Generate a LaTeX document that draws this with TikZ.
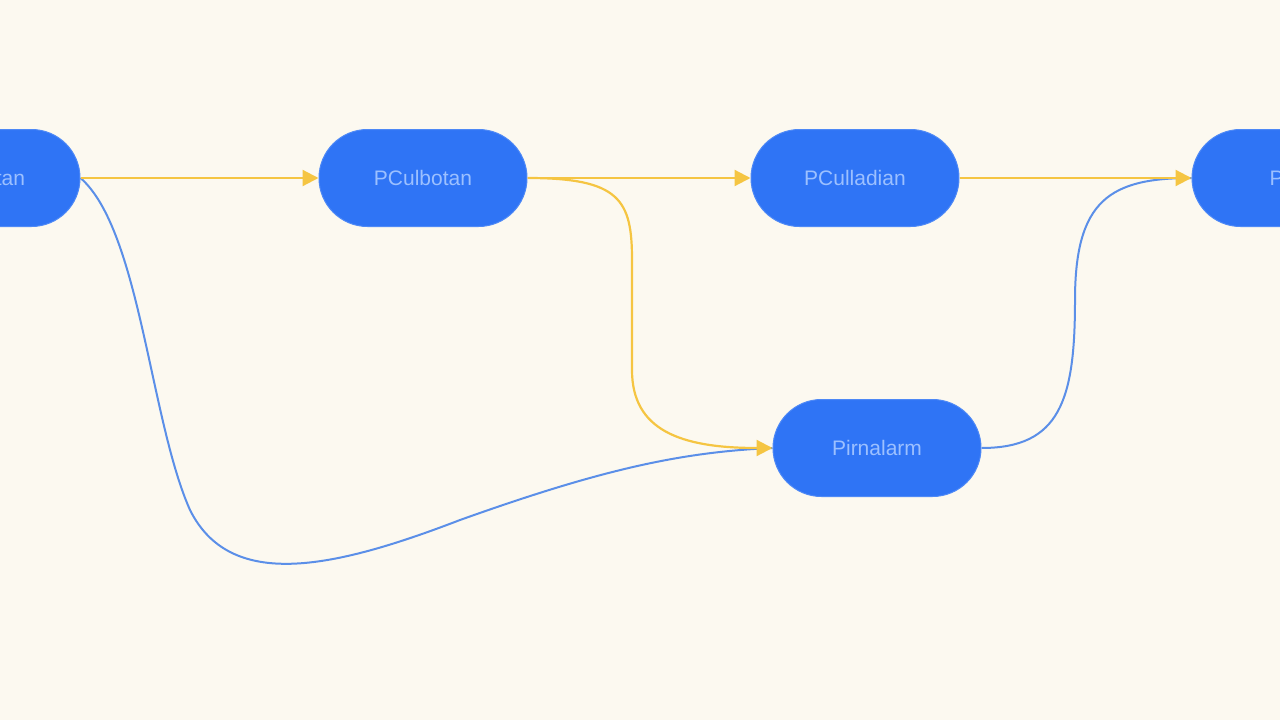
\documentclass[tikz,border=0pt]{standalone}
\usepackage{fontspec}
\setmainfont{Liberation Sans}
\usetikzlibrary{shapes.misc,arrows.meta}
\definecolor{bg}{HTML}{FCF9F0}
\definecolor{nodefill}{HTML}{2F74F5}
\definecolor{txt}{HTML}{9CC0FF}
\definecolor{yel}{HTML}{F5C542}
\definecolor{bl}{HTML}{5B8FE8}
\tikzset{
  pill/.style={rounded rectangle, fill=nodefill, draw=nodefill!85!white, line width=1pt, minimum width=208pt, minimum height=97pt, text=txt, font=\fontsize{21}{24}\selectfont, inner sep=0pt},
  yarrow/.style={draw=yel, line width=2.2pt, -{Triangle[length=16pt,width=16pt]}},
  bline/.style={draw=bl, line width=2pt}
}
\begin{document}
\begin{tikzpicture}[x=1pt,y=-1pt]
\fill[bg] (0,0) rectangle (1280,720);
\useasboundingbox (0,0) rectangle (1280,720);
\node[pill] (A) at (-24,178) {PCulbotan};
\node[pill] (B) at (423,178) {PCulbotan};
\node[pill] (C) at (855,178) {PCulladian};
\node[pill] (D) at (1296,178) {PRae};
\node[pill] (E) at (877,448) {Pirnalarm};
\draw[bline] (A.east) .. controls (140,230) and (150,420) .. (190,510) .. controls (230,590) and (330,570) .. (460,520) .. controls (600,470) and (680,452) .. (E.west);
\draw[bline] (E.east) .. controls (1060,448) and (1075,400) .. (1075,300) .. controls (1075,200) and (1110,178) .. (D.west);
\draw[yarrow] (A.east) -- (B.west);
\draw[yarrow] (B.east) -- (C.west);
\draw[yarrow] (C.east) -- (D.west);
\draw[yarrow] (B.east) .. controls (620,178) and (632,200) .. (632,260) -- (632,370) .. controls (632,430) and (680,448) .. (E.west);
\end{tikzpicture}
\end{document}
